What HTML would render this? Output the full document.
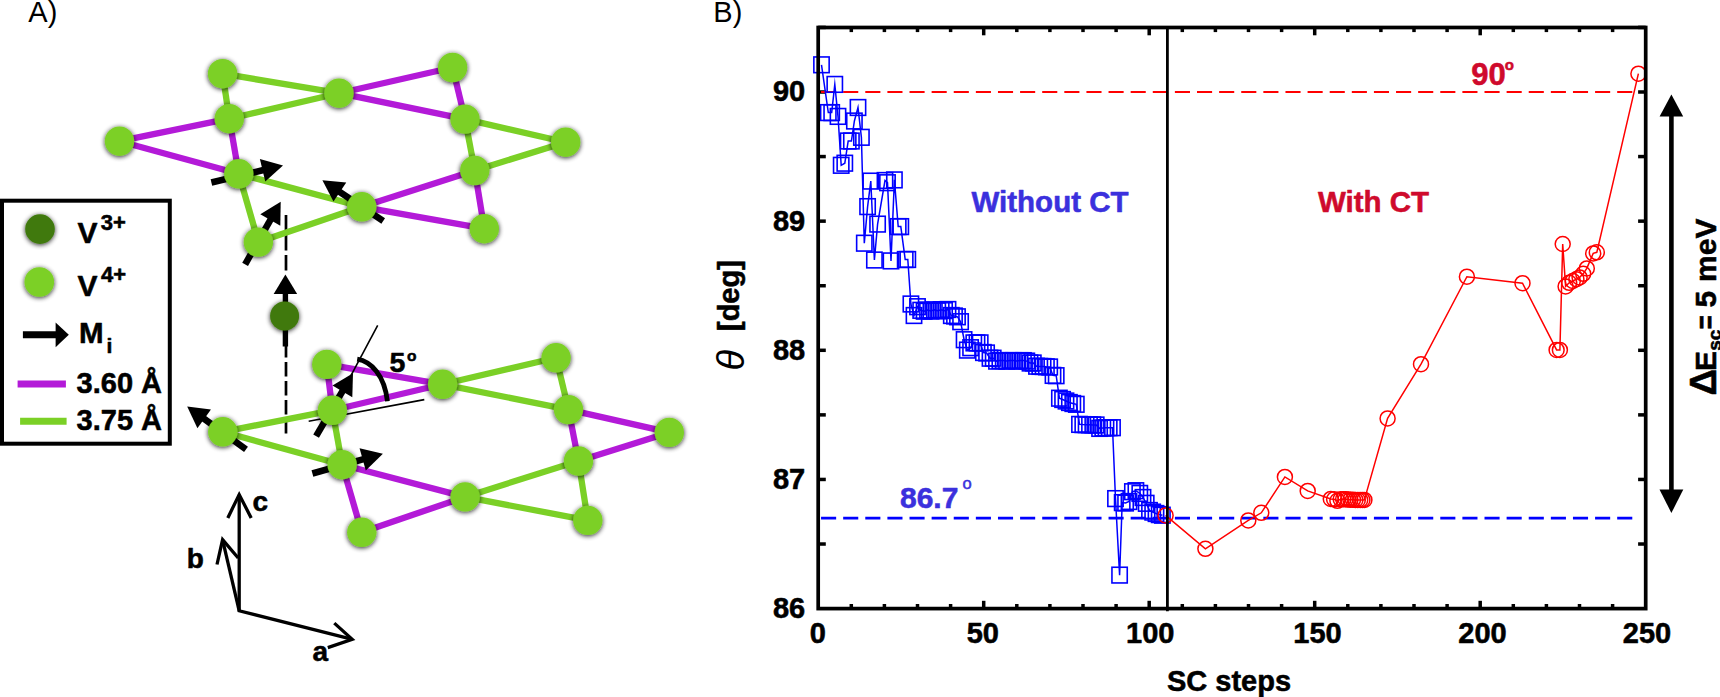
<!DOCTYPE html>
<html lang="en">
<head>
<meta charset="utf-8">
<title>Figure: spin canting and SC steps</title>
<style>
html,body{margin:0;padding:0;background:#fff;}
body{width:1720px;height:697px;overflow:hidden;}
svg{display:block;font-family:'Liberation Sans', sans-serif;}
.b{stroke-width:.55px;stroke-linejoin:round;}
</style>
</head>
<body>
<svg width="1720" height="697" viewBox="0 0 1720 697">
<defs>
<filter id="sh" x="-30%" y="-30%" width="160%" height="170%">
<feGaussianBlur in="SourceAlpha" stdDeviation="2.4" result="b"/>
<feOffset in="b" dx="0" dy="1.3" result="o"/>
<feComponentTransfer in="o" result="s"><feFuncA type="linear" slope="0.85"/></feComponentTransfer>
<feMerge><feMergeNode in="s"/><feMergeNode in="SourceGraphic"/></feMerge>
</filter>
</defs>
<rect width="1720" height="697" fill="#fff"/>
<g id="panelA">
<line x1="286" y1="215" x2="286" y2="272" stroke="#000" stroke-width="2.7" stroke-dasharray="15.5 4.5"/>
<line x1="286" y1="343" x2="286" y2="434.5" stroke="#000" stroke-width="2.7" stroke-dasharray="14.5 4.5"/>
<line x1="222.6" y1="73.7" x2="339" y2="93.2" stroke="#7bd026" stroke-width="6.3"/>
<line x1="339" y1="93.2" x2="229.3" y2="118.7" stroke="#7bd026" stroke-width="6.3"/>
<line x1="222.6" y1="73.7" x2="229.3" y2="118.7" stroke="#7bd026" stroke-width="6.3"/>
<line x1="229.3" y1="118.7" x2="119.5" y2="141.2" stroke="#b31ad8" stroke-width="6.3"/>
<line x1="119.5" y1="141.2" x2="238.8" y2="173.8" stroke="#b31ad8" stroke-width="6.3"/>
<line x1="229.3" y1="118.7" x2="238.8" y2="173.8" stroke="#b31ad8" stroke-width="6.3"/>
<line x1="339" y1="93.2" x2="452.6" y2="67.5" stroke="#b31ad8" stroke-width="6.3"/>
<line x1="339" y1="93.2" x2="465" y2="119.1" stroke="#b31ad8" stroke-width="6.3"/>
<line x1="452.6" y1="67.5" x2="465" y2="119.1" stroke="#b31ad8" stroke-width="6.3"/>
<line x1="465" y1="119.1" x2="565.7" y2="142.2" stroke="#7bd026" stroke-width="6.3"/>
<line x1="565.7" y1="142.2" x2="474.8" y2="170.5" stroke="#7bd026" stroke-width="6.3"/>
<line x1="465" y1="119.1" x2="474.8" y2="170.5" stroke="#7bd026" stroke-width="6.3"/>
<line x1="474.8" y1="170.5" x2="361.8" y2="206.8" stroke="#b31ad8" stroke-width="6.3"/>
<line x1="361.8" y1="206.8" x2="484.3" y2="228.7" stroke="#b31ad8" stroke-width="6.3"/>
<line x1="474.8" y1="170.5" x2="484.3" y2="228.7" stroke="#b31ad8" stroke-width="6.3"/>
<line x1="238.8" y1="173.8" x2="361.8" y2="206.8" stroke="#7bd026" stroke-width="6.3"/>
<line x1="361.8" y1="206.8" x2="258.4" y2="242.1" stroke="#7bd026" stroke-width="6.3"/>
<line x1="238.8" y1="173.8" x2="258.4" y2="242.1" stroke="#7bd026" stroke-width="6.3"/>
<line x1="211.4" y1="182.5" x2="263.55" y2="170.05" stroke="#000" stroke-width="6.6"/><polygon points="283,165.4 265.25,181.46 259.9,159.09" fill="#000"/>
<line x1="245.1" y1="264.4" x2="270.83" y2="219.09" stroke="#000" stroke-width="6.6"/><polygon points="280.7,201.7 280.33,225.64 260.33,214.28" fill="#000"/>
<line x1="383.2" y1="220.9" x2="339.03" y2="191.41" stroke="#000" stroke-width="6.6"/><polygon points="322.4,180.3 346.25,182.4 333.48,201.53" fill="#000"/>
<circle cx="222.6" cy="73.7" r="14.7" fill="#7bd026" filter="url(#sh)"/>
<circle cx="452.6" cy="67.5" r="14.7" fill="#7bd026" filter="url(#sh)"/>
<circle cx="339" cy="93.2" r="14.7" fill="#7bd026" filter="url(#sh)"/>
<circle cx="229.3" cy="118.7" r="14.7" fill="#7bd026" filter="url(#sh)"/>
<circle cx="465" cy="119.1" r="14.7" fill="#7bd026" filter="url(#sh)"/>
<circle cx="119.5" cy="141.2" r="14.7" fill="#7bd026" filter="url(#sh)"/>
<circle cx="565.7" cy="142.2" r="14.7" fill="#7bd026" filter="url(#sh)"/>
<circle cx="238.8" cy="173.8" r="14.7" fill="#7bd026" filter="url(#sh)"/>
<circle cx="474.8" cy="170.5" r="14.7" fill="#7bd026" filter="url(#sh)"/>
<circle cx="361.8" cy="206.8" r="14.7" fill="#7bd026" filter="url(#sh)"/>
<circle cx="258.4" cy="242.1" r="14.7" fill="#7bd026" filter="url(#sh)"/>
<circle cx="484.3" cy="228.7" r="14.7" fill="#7bd026" filter="url(#sh)"/>
<line x1="285.4" y1="346.5" x2="285.4" y2="293" stroke="#000" stroke-width="5.4"/><polygon points="285.4,274.5 297.15,294 273.65,294" fill="#000"/>
<circle cx="284.6" cy="316" r="14.5" fill="#3f790b" filter="url(#sh)"/>
<line x1="326.8" y1="364.4" x2="442.6" y2="384.3" stroke="#b31ad8" stroke-width="6.3"/>
<line x1="442.6" y1="384.3" x2="332.4" y2="410.3" stroke="#b31ad8" stroke-width="6.3"/>
<line x1="326.8" y1="364.4" x2="332.4" y2="410.3" stroke="#b31ad8" stroke-width="6.3"/>
<line x1="442.6" y1="384.3" x2="556.1" y2="357.8" stroke="#7bd026" stroke-width="6.3"/>
<line x1="442.6" y1="384.3" x2="568.5" y2="409.6" stroke="#7bd026" stroke-width="6.3"/>
<line x1="556.1" y1="357.8" x2="568.5" y2="409.6" stroke="#7bd026" stroke-width="6.3"/>
<line x1="568.5" y1="409.6" x2="669.3" y2="432.4" stroke="#b31ad8" stroke-width="6.3"/>
<line x1="669.3" y1="432.4" x2="578.5" y2="461" stroke="#b31ad8" stroke-width="6.3"/>
<line x1="568.5" y1="409.6" x2="578.5" y2="461" stroke="#b31ad8" stroke-width="6.3"/>
<line x1="578.5" y1="461" x2="465.1" y2="496.9" stroke="#7bd026" stroke-width="6.3"/>
<line x1="465.1" y1="496.9" x2="587.8" y2="520.4" stroke="#7bd026" stroke-width="6.3"/>
<line x1="578.5" y1="461" x2="587.8" y2="520.4" stroke="#7bd026" stroke-width="6.3"/>
<line x1="342.2" y1="464.7" x2="465.1" y2="496.9" stroke="#b31ad8" stroke-width="6.3"/>
<line x1="465.1" y1="496.9" x2="361.8" y2="532.3" stroke="#b31ad8" stroke-width="6.3"/>
<line x1="342.2" y1="464.7" x2="361.8" y2="532.3" stroke="#b31ad8" stroke-width="6.3"/>
<line x1="332.4" y1="410.3" x2="222.8" y2="431.8" stroke="#7bd026" stroke-width="6.3"/>
<line x1="222.8" y1="431.8" x2="342.2" y2="464.7" stroke="#7bd026" stroke-width="6.3"/>
<line x1="332.4" y1="410.3" x2="342.2" y2="464.7" stroke="#7bd026" stroke-width="6.3"/>
<line x1="308.7" y1="421.3" x2="424.3" y2="399.6" stroke="#000" stroke-width="1.6"/>
<line x1="332.4" y1="410.3" x2="377.7" y2="325.4" stroke="#000" stroke-width="1.6"/>
<line x1="316.1" y1="436.2" x2="342.89" y2="390.46" stroke="#000" stroke-width="6.6"/><polygon points="353,373.2 352.31,397.13 332.46,385.51" fill="#000"/>
<line x1="246" y1="449.3" x2="203.37" y2="418.27" stroke="#000" stroke-width="6.6"/><polygon points="187.2,406.5 210.95,409.56 197.41,428.16" fill="#000"/>
<line x1="312.4" y1="473.5" x2="363.64" y2="459.11" stroke="#000" stroke-width="6.6"/><polygon points="382.9,453.7 365.79,470.45 359.57,448.31" fill="#000"/>
<path d="M357.2 359.2 C371 361.5 384.5 375 387.4 401.3" fill="none" stroke="#000" stroke-width="4.8"/>
<circle cx="326.8" cy="364.4" r="14.7" fill="#7bd026" filter="url(#sh)"/>
<circle cx="556.1" cy="357.8" r="14.7" fill="#7bd026" filter="url(#sh)"/>
<circle cx="442.6" cy="384.3" r="14.7" fill="#7bd026" filter="url(#sh)"/>
<circle cx="332.4" cy="410.3" r="14.7" fill="#7bd026" filter="url(#sh)"/>
<circle cx="568.5" cy="409.6" r="14.7" fill="#7bd026" filter="url(#sh)"/>
<circle cx="222.8" cy="431.8" r="14.7" fill="#7bd026" filter="url(#sh)"/>
<circle cx="669.3" cy="432.4" r="14.7" fill="#7bd026" filter="url(#sh)"/>
<circle cx="342.2" cy="464.7" r="14.7" fill="#7bd026" filter="url(#sh)"/>
<circle cx="578.5" cy="461" r="14.7" fill="#7bd026" filter="url(#sh)"/>
<circle cx="465.1" cy="496.9" r="14.7" fill="#7bd026" filter="url(#sh)"/>
<circle cx="361.8" cy="532.3" r="14.7" fill="#7bd026" filter="url(#sh)"/>
<circle cx="587.8" cy="520.4" r="14.7" fill="#7bd026" filter="url(#sh)"/>
<text x="389.6" y="372.2" font-size="28.5" font-weight="bold" class="b" stroke="#000">5</text>
<text x="406.9" y="361.3" font-size="15.5" font-weight="bold" class="b" stroke="#000">o</text>
<rect x="2" y="200.7" width="167.8" height="243" fill="#fff" stroke="#000" stroke-width="4"/>
<circle cx="40" cy="229.1" r="14.8" fill="#3f790b" filter="url(#sh)"/>
<circle cx="39.3" cy="282" r="14.8" fill="#7bd026" filter="url(#sh)"/>
<text x="77.4" y="243.4" font-size="30" font-weight="bold" class="b" stroke="#000">V</text>
<text x="100.8" y="230.1" font-size="22" font-weight="bold" class="b" stroke="#000">3+</text>
<text x="77.4" y="295.6" font-size="30" font-weight="bold" class="b" stroke="#000">V</text>
<text x="101" y="281.7" font-size="22" font-weight="bold" class="b" stroke="#000">4+</text>
<line x1="22.9" y1="334.8" x2="56.6" y2="334.8" stroke="#000" stroke-width="7.1"/><polygon points="68.8,334.8 55.6,347.15 55.6,322.45" fill="#000"/>
<text x="79" y="343" font-size="29.5" font-weight="bold" class="b" stroke="#000">M</text>
<text x="106.6" y="352.8" font-size="21" font-weight="bold" class="b" stroke="#000">i</text>
<line x1="17.6" y1="384" x2="65.9" y2="384" stroke="#b31ad8" stroke-width="7"/>
<text x="76.6" y="393.1" font-size="29" font-weight="bold" class="b" stroke="#000">3.60 Å</text>
<line x1="20.1" y1="421.2" x2="66.6" y2="421.2" stroke="#7bd026" stroke-width="7"/>
<text x="76.6" y="429.8" font-size="29" font-weight="bold" class="b" stroke="#000">3.75 Å</text>
<g fill="none" stroke="#000" stroke-width="3.3" stroke-linejoin="miter">
<path d="M239.2 494.8 L239.2 610.8 L351.5 639.2"/>
<path d="M227.8 517.9 L239.2 494.6 L251.2 517.9"/>
<path d="M239.2 610.8 L222.6 539.8"/>
<path d="M217 564.5 L222.6 539.6 L238.2 558"/>
<path d="M334.3 623.1 L352.2 639.4 L327.8 647.6"/>
</g>
<text x="252.5" y="511.4" font-size="28" font-weight="bold" class="b" stroke="#000">c</text>
<text x="186.8" y="567.8" font-size="28" font-weight="bold" class="b" stroke="#000">b</text>
<text x="312.6" y="660.6" font-size="28" font-weight="bold" class="b" stroke="#000">a</text>
<text x="28.3" y="21.5" font-size="29">A)</text>
</g>
<g id="panelB">
<text x="713.3" y="21.5" font-size="29">B)</text>
<g stroke="#000" stroke-width="3.5">
<line x1="851.3" y1="608.6" x2="851.3" y2="604"/>
<line x1="851.3" y1="27.5" x2="851.3" y2="32.1"/>
<line x1="884.4" y1="608.6" x2="884.4" y2="604"/>
<line x1="884.4" y1="27.5" x2="884.4" y2="32.1"/>
<line x1="917.5" y1="608.6" x2="917.5" y2="604"/>
<line x1="917.5" y1="27.5" x2="917.5" y2="32.1"/>
<line x1="950.6" y1="608.6" x2="950.6" y2="604"/>
<line x1="950.6" y1="27.5" x2="950.6" y2="32.1"/>
<line x1="983.7" y1="608.6" x2="983.7" y2="600.8"/>
<line x1="983.7" y1="27.5" x2="983.7" y2="35.3"/>
<line x1="1016.8" y1="608.6" x2="1016.8" y2="604"/>
<line x1="1016.8" y1="27.5" x2="1016.8" y2="32.1"/>
<line x1="1049.9" y1="608.6" x2="1049.9" y2="604"/>
<line x1="1049.9" y1="27.5" x2="1049.9" y2="32.1"/>
<line x1="1083" y1="608.6" x2="1083" y2="604"/>
<line x1="1083" y1="27.5" x2="1083" y2="32.1"/>
<line x1="1116.1" y1="608.6" x2="1116.1" y2="604"/>
<line x1="1116.1" y1="27.5" x2="1116.1" y2="32.1"/>
<line x1="1149.2" y1="608.6" x2="1149.2" y2="600.8"/>
<line x1="1149.2" y1="27.5" x2="1149.2" y2="35.3"/>
<line x1="1182.3" y1="608.6" x2="1182.3" y2="604"/>
<line x1="1182.3" y1="27.5" x2="1182.3" y2="32.1"/>
<line x1="1215.4" y1="608.6" x2="1215.4" y2="604"/>
<line x1="1215.4" y1="27.5" x2="1215.4" y2="32.1"/>
<line x1="1248.5" y1="608.6" x2="1248.5" y2="604"/>
<line x1="1248.5" y1="27.5" x2="1248.5" y2="32.1"/>
<line x1="1281.6" y1="608.6" x2="1281.6" y2="604"/>
<line x1="1281.6" y1="27.5" x2="1281.6" y2="32.1"/>
<line x1="1314.7" y1="608.6" x2="1314.7" y2="600.8"/>
<line x1="1314.7" y1="27.5" x2="1314.7" y2="35.3"/>
<line x1="1347.8" y1="608.6" x2="1347.8" y2="604"/>
<line x1="1347.8" y1="27.5" x2="1347.8" y2="32.1"/>
<line x1="1380.9" y1="608.6" x2="1380.9" y2="604"/>
<line x1="1380.9" y1="27.5" x2="1380.9" y2="32.1"/>
<line x1="1414" y1="608.6" x2="1414" y2="604"/>
<line x1="1414" y1="27.5" x2="1414" y2="32.1"/>
<line x1="1447.1" y1="608.6" x2="1447.1" y2="604"/>
<line x1="1447.1" y1="27.5" x2="1447.1" y2="32.1"/>
<line x1="1480.2" y1="608.6" x2="1480.2" y2="600.8"/>
<line x1="1480.2" y1="27.5" x2="1480.2" y2="35.3"/>
<line x1="1513.3" y1="608.6" x2="1513.3" y2="604"/>
<line x1="1513.3" y1="27.5" x2="1513.3" y2="32.1"/>
<line x1="1546.4" y1="608.6" x2="1546.4" y2="604"/>
<line x1="1546.4" y1="27.5" x2="1546.4" y2="32.1"/>
<line x1="1579.5" y1="608.6" x2="1579.5" y2="604"/>
<line x1="1579.5" y1="27.5" x2="1579.5" y2="32.1"/>
<line x1="1612.6" y1="608.6" x2="1612.6" y2="604"/>
<line x1="1612.6" y1="27.5" x2="1612.6" y2="32.1"/>
<line x1="818.2" y1="544.02" x2="825.8" y2="544.02"/>
<line x1="1645.7" y1="544.02" x2="1638.1" y2="544.02"/>
<line x1="818.2" y1="479.45" x2="825.8" y2="479.45"/>
<line x1="1645.7" y1="479.45" x2="1638.1" y2="479.45"/>
<line x1="818.2" y1="414.88" x2="825.8" y2="414.88"/>
<line x1="1645.7" y1="414.88" x2="1638.1" y2="414.88"/>
<line x1="818.2" y1="350.3" x2="825.8" y2="350.3"/>
<line x1="1645.7" y1="350.3" x2="1638.1" y2="350.3"/>
<line x1="818.2" y1="285.73" x2="825.8" y2="285.73"/>
<line x1="1645.7" y1="285.73" x2="1638.1" y2="285.73"/>
<line x1="818.2" y1="221.15" x2="825.8" y2="221.15"/>
<line x1="1645.7" y1="221.15" x2="1638.1" y2="221.15"/>
<line x1="818.2" y1="156.57" x2="825.8" y2="156.57"/>
<line x1="1645.7" y1="156.57" x2="1638.1" y2="156.57"/>
<line x1="818.2" y1="92" x2="825.8" y2="92"/>
<line x1="1645.7" y1="92" x2="1638.1" y2="92"/>
<line x1="818.2" y1="27.42" x2="825.8" y2="27.42"/>
<line x1="1645.7" y1="27.42" x2="1638.1" y2="27.42"/>
</g>
<line x1="821.05" y1="92" x2="1633.5" y2="92" stroke="#ff0000" stroke-width="2.2" stroke-dasharray="15.1 7.015"/>
<line x1="821.05" y1="518.2" x2="1633" y2="518.2" stroke="#0000ff" stroke-width="2.8" stroke-dasharray="15.1 7.015"/>
<polyline fill="none" stroke="#0000ff" stroke-width="1.5" stroke-linejoin="miter" stroke-miterlimit="10" points="821.5,64.8 828.3,112.6 831.7,112.6 834.8,84.4 838,116.4 841.2,165.3 844.8,163.2 848.2,141 851.4,141 854.4,121 858,107.5 861.4,137.3 864.3,243.2 867.6,206.6 870.8,181.1 874.4,260 877.6,224.1 885,180.5 887.5,182.7 891,260.9 894.4,179.9 898.2,226.6 900.8,226.6 905.2,259.5 907.8,259.5 910.9,304 914,315.5 917.5,306.7 920.7,310.3 924.11,311.2 927.53,310.1 930.94,311 934.35,309.9 937.76,310.8 941.17,309.7 944.59,310.6 948,309.5 951.3,315.5 954.5,316 957.5,316.8 960.6,321.7 964.1,339.7 967.3,350.1 970.6,347.7 973.8,342.9 977,342.9 980.2,342.9 983.4,352.5 986.6,353 990,358.2 993.2,358.2 996.5,361.1 999.87,360.6 1003.23,360.6 1006.6,361.1 1009.97,360.6 1013.33,360.6 1016.7,361.1 1020.07,360.6 1023.43,360.6 1026.8,361.1 1030,363 1033.3,363 1036.5,366.2 1039.8,366.4 1043.1,366.5 1046.4,366.8 1049.7,367 1053,375.4 1056.2,375.7 1059.4,398.2 1062.6,399.5 1066,401 1069.4,402.5 1072.8,403.5 1076.3,404.3 1079.5,424.4 1082.8,424.6 1086.1,424.7 1089.5,424.8 1092.8,424.9 1096.2,425 1099.6,428.4 1102.8,428 1106,427.8 1109.2,427.7 1112.5,427.7 1115.5,498.6 1119.6,575.1 1122.2,502.6 1125.6,503 1129,501.5 1132.4,491.7 1135.9,490.7 1139.8,493.4 1143,497.5 1146.2,503.3 1149.5,510.5 1152.7,512.1 1156,513.5 1159.2,514.6 1162.4,515.2"/>
<g fill="none" stroke="#0000ff" stroke-width="1.6">
<rect x="813.85" y="56.95" width="15.3" height="15.7"/>
<rect x="820.65" y="104.75" width="15.3" height="15.7"/>
<rect x="824.05" y="104.75" width="15.3" height="15.7"/>
<rect x="827.15" y="76.55" width="15.3" height="15.7"/>
<rect x="830.35" y="108.55" width="15.3" height="15.7"/>
<rect x="833.55" y="157.45" width="15.3" height="15.7"/>
<rect x="837.15" y="155.35" width="15.3" height="15.7"/>
<rect x="840.55" y="133.15" width="15.3" height="15.7"/>
<rect x="843.75" y="133.15" width="15.3" height="15.7"/>
<rect x="846.75" y="113.15" width="15.3" height="15.7"/>
<rect x="850.35" y="99.65" width="15.3" height="15.7"/>
<rect x="853.75" y="129.45" width="15.3" height="15.7"/>
<rect x="856.65" y="235.35" width="15.3" height="15.7"/>
<rect x="859.95" y="198.75" width="15.3" height="15.7"/>
<rect x="863.15" y="173.25" width="15.3" height="15.7"/>
<rect x="866.75" y="252.15" width="15.3" height="15.7"/>
<rect x="869.95" y="216.25" width="15.3" height="15.7"/>
<rect x="877.35" y="172.65" width="15.3" height="15.7"/>
<rect x="879.85" y="174.85" width="15.3" height="15.7"/>
<rect x="883.35" y="253.05" width="15.3" height="15.7"/>
<rect x="886.75" y="172.05" width="15.3" height="15.7"/>
<rect x="890.55" y="218.75" width="15.3" height="15.7"/>
<rect x="893.15" y="218.75" width="15.3" height="15.7"/>
<rect x="897.55" y="251.65" width="15.3" height="15.7"/>
<rect x="900.15" y="251.65" width="15.3" height="15.7"/>
<rect x="903.25" y="296.15" width="15.3" height="15.7"/>
<rect x="906.35" y="307.65" width="15.3" height="15.7"/>
<rect x="909.85" y="298.85" width="15.3" height="15.7"/>
<rect x="913.05" y="302.45" width="15.3" height="15.7"/>
<rect x="916.46" y="303.35" width="15.3" height="15.7"/>
<rect x="919.88" y="302.25" width="15.3" height="15.7"/>
<rect x="923.29" y="303.15" width="15.3" height="15.7"/>
<rect x="926.7" y="302.05" width="15.3" height="15.7"/>
<rect x="930.11" y="302.95" width="15.3" height="15.7"/>
<rect x="933.52" y="301.85" width="15.3" height="15.7"/>
<rect x="936.94" y="302.75" width="15.3" height="15.7"/>
<rect x="940.35" y="301.65" width="15.3" height="15.7"/>
<rect x="943.65" y="307.65" width="15.3" height="15.7"/>
<rect x="946.85" y="308.15" width="15.3" height="15.7"/>
<rect x="949.85" y="308.95" width="15.3" height="15.7"/>
<rect x="952.95" y="313.85" width="15.3" height="15.7"/>
<rect x="956.45" y="331.85" width="15.3" height="15.7"/>
<rect x="959.65" y="342.25" width="15.3" height="15.7"/>
<rect x="962.95" y="339.85" width="15.3" height="15.7"/>
<rect x="966.15" y="335.05" width="15.3" height="15.7"/>
<rect x="969.35" y="335.05" width="15.3" height="15.7"/>
<rect x="972.55" y="335.05" width="15.3" height="15.7"/>
<rect x="975.75" y="344.65" width="15.3" height="15.7"/>
<rect x="978.95" y="345.15" width="15.3" height="15.7"/>
<rect x="982.35" y="350.35" width="15.3" height="15.7"/>
<rect x="985.55" y="350.35" width="15.3" height="15.7"/>
<rect x="988.85" y="353.25" width="15.3" height="15.7"/>
<rect x="992.22" y="352.75" width="15.3" height="15.7"/>
<rect x="995.58" y="352.75" width="15.3" height="15.7"/>
<rect x="998.95" y="353.25" width="15.3" height="15.7"/>
<rect x="1002.32" y="352.75" width="15.3" height="15.7"/>
<rect x="1005.68" y="352.75" width="15.3" height="15.7"/>
<rect x="1009.05" y="353.25" width="15.3" height="15.7"/>
<rect x="1012.42" y="352.75" width="15.3" height="15.7"/>
<rect x="1015.78" y="352.75" width="15.3" height="15.7"/>
<rect x="1019.15" y="353.25" width="15.3" height="15.7"/>
<rect x="1022.35" y="355.15" width="15.3" height="15.7"/>
<rect x="1025.65" y="355.15" width="15.3" height="15.7"/>
<rect x="1028.85" y="358.35" width="15.3" height="15.7"/>
<rect x="1032.15" y="358.55" width="15.3" height="15.7"/>
<rect x="1035.45" y="358.65" width="15.3" height="15.7"/>
<rect x="1038.75" y="358.95" width="15.3" height="15.7"/>
<rect x="1042.05" y="359.15" width="15.3" height="15.7"/>
<rect x="1045.35" y="367.55" width="15.3" height="15.7"/>
<rect x="1048.55" y="367.85" width="15.3" height="15.7"/>
<rect x="1051.75" y="390.35" width="15.3" height="15.7"/>
<rect x="1054.95" y="391.65" width="15.3" height="15.7"/>
<rect x="1058.35" y="393.15" width="15.3" height="15.7"/>
<rect x="1061.75" y="394.65" width="15.3" height="15.7"/>
<rect x="1065.15" y="395.65" width="15.3" height="15.7"/>
<rect x="1068.65" y="396.45" width="15.3" height="15.7"/>
<rect x="1071.85" y="416.55" width="15.3" height="15.7"/>
<rect x="1075.15" y="416.75" width="15.3" height="15.7"/>
<rect x="1078.45" y="416.85" width="15.3" height="15.7"/>
<rect x="1081.85" y="416.95" width="15.3" height="15.7"/>
<rect x="1085.15" y="417.05" width="15.3" height="15.7"/>
<rect x="1088.55" y="417.15" width="15.3" height="15.7"/>
<rect x="1091.95" y="420.55" width="15.3" height="15.7"/>
<rect x="1095.15" y="420.15" width="15.3" height="15.7"/>
<rect x="1098.35" y="419.95" width="15.3" height="15.7"/>
<rect x="1101.55" y="419.85" width="15.3" height="15.7"/>
<rect x="1104.85" y="419.85" width="15.3" height="15.7"/>
<rect x="1107.85" y="490.75" width="15.3" height="15.7"/>
<rect x="1111.95" y="567.25" width="15.3" height="15.7"/>
<rect x="1114.55" y="494.75" width="15.3" height="15.7"/>
<rect x="1117.95" y="495.15" width="15.3" height="15.7"/>
<rect x="1121.35" y="493.65" width="15.3" height="15.7"/>
<rect x="1124.75" y="483.85" width="15.3" height="15.7"/>
<rect x="1128.25" y="482.85" width="15.3" height="15.7"/>
<rect x="1132.15" y="485.55" width="15.3" height="15.7"/>
<rect x="1135.35" y="489.65" width="15.3" height="15.7"/>
<rect x="1138.55" y="495.45" width="15.3" height="15.7"/>
<rect x="1141.85" y="502.65" width="15.3" height="15.7"/>
<rect x="1145.05" y="504.25" width="15.3" height="15.7"/>
<rect x="1148.35" y="505.65" width="15.3" height="15.7"/>
<rect x="1151.55" y="506.75" width="15.3" height="15.7"/>
<rect x="1154.75" y="507.35" width="15.3" height="15.7"/>
</g>
<polyline fill="none" stroke="#ff0000" stroke-width="1.5" stroke-miterlimit="10" points="1165.6,515.4 1205.4,548.8 1248.3,520.4 1261.3,512.8 1284.9,476.9 1307.7,490.9 1330.8,498.9 1334.1,499.3 1337.4,500.8 1340.7,499.3 1343.2,499.2 1345.6,499.3 1348,499.6 1350.4,499.7 1353,499.8 1355.4,499.9 1357.8,500 1360.2,500 1362.4,500 1364.4,499.9 1387.6,418.4 1421,364.2 1466.9,276.7 1522.5,283.2 1556.6,349.9 1559.9,349.9 1562.7,244 1565.6,286.4 1569.2,282.8 1572.8,281 1576.4,279.2 1579.6,277.4 1583.2,273.8 1586.8,268.4 1593.2,253.4 1596.8,252.3 1638.4,73.7"/>
<g fill="none" stroke="#ff0000" stroke-width="1.5">
<circle cx="1165.6" cy="515.4" r="7.5"/>
<circle cx="1205.4" cy="548.8" r="7.5"/>
<circle cx="1248.3" cy="520.4" r="7.5"/>
<circle cx="1261.3" cy="512.8" r="7.5"/>
<circle cx="1284.9" cy="476.9" r="7.5"/>
<circle cx="1307.7" cy="490.9" r="7.5"/>
<circle cx="1330.8" cy="498.9" r="7.5"/>
<circle cx="1334.1" cy="499.3" r="7.5"/>
<circle cx="1337.4" cy="500.8" r="7.5"/>
<circle cx="1340.7" cy="499.3" r="7.5"/>
<circle cx="1343.2" cy="499.2" r="7.5"/>
<circle cx="1345.6" cy="499.3" r="7.5"/>
<circle cx="1348" cy="499.6" r="7.5"/>
<circle cx="1350.4" cy="499.7" r="7.5"/>
<circle cx="1353" cy="499.8" r="7.5"/>
<circle cx="1355.4" cy="499.9" r="7.5"/>
<circle cx="1357.8" cy="500" r="7.5"/>
<circle cx="1360.2" cy="500" r="7.5"/>
<circle cx="1362.4" cy="500" r="7.5"/>
<circle cx="1364.4" cy="499.9" r="7.5"/>
<circle cx="1387.6" cy="418.4" r="7.5"/>
<circle cx="1421" cy="364.2" r="7.5"/>
<circle cx="1466.9" cy="276.7" r="7.5"/>
<circle cx="1522.5" cy="283.2" r="7.5"/>
<circle cx="1556.6" cy="349.9" r="7.5"/>
<circle cx="1559.9" cy="349.9" r="7.5"/>
<circle cx="1562.7" cy="244" r="7.5"/>
<circle cx="1565.6" cy="286.4" r="7.5"/>
<circle cx="1569.2" cy="282.8" r="7.5"/>
<circle cx="1572.8" cy="281" r="7.5"/>
<circle cx="1576.4" cy="279.2" r="7.5"/>
<circle cx="1579.6" cy="277.4" r="7.5"/>
<circle cx="1583.2" cy="273.8" r="7.5"/>
<circle cx="1586.8" cy="268.4" r="7.5"/>
<circle cx="1593.2" cy="253.4" r="7.5"/>
<circle cx="1596.8" cy="252.3" r="7.5"/>
<circle cx="1638.4" cy="73.7" r="7.5"/>
</g>
<line x1="1167.4" y1="27.5" x2="1167.4" y2="611.3" stroke="#000" stroke-width="2.8"/>
<rect x="818.2" y="27.5" width="827.5" height="581.1" fill="none" stroke="#000" stroke-width="3.7"/>
<g font-size="29" font-weight="bold" class="b" stroke="#000">
<text x="805.2" y="618" text-anchor="end">86</text>
<text x="805.2" y="488.85" text-anchor="end">87</text>
<text x="805.2" y="359.7" text-anchor="end">88</text>
<text x="805.2" y="230.55" text-anchor="end">89</text>
<text x="805.2" y="101.4" text-anchor="end">90</text>
<text x="817.8" y="642.7" text-anchor="middle">0</text>
<text x="982.8" y="642.7" text-anchor="middle">50</text>
<text x="1150.3" y="642.7" text-anchor="middle">100</text>
<text x="1317.5" y="642.7" text-anchor="middle">150</text>
<text x="1482.5" y="642.7" text-anchor="middle">200</text>
<text x="1647" y="642.7" text-anchor="middle">250</text>
<text x="1229" y="690.8" text-anchor="middle">SC steps</text>
</g>
<text transform="translate(744 370.5) rotate(-90)" font-size="38" font-style="italic">θ</text>
<text transform="translate(739.4 331) rotate(-90)" font-size="29" font-weight="bold" class="b" stroke="#000">[deg]</text>
<text x="971.5" y="211.7" font-size="29.5" font-weight="bold" class="b" fill="#3b30dd" stroke="#3b30dd">Without CT</text>
<text x="1318" y="211.7" font-size="29.5" font-weight="bold" class="b" fill="#cf0a2c" stroke="#cf0a2c">With CT</text>
<text x="1471.2" y="85.1" font-size="31" font-weight="bold" class="b" fill="#cf0a2c" stroke="#cf0a2c">90<tspan font-size="15" dx="-1" dy="-15.4">o</tspan></text>
<text x="900" y="508" font-size="30" font-weight="bold" class="b" fill="#3b30dd" stroke="#3b30dd">86.7<tspan font-size="16.5" font-weight="normal" dx="4" dy="-19.2">o</tspan></text>
<line x1="1671.4" y1="112" x2="1671.4" y2="492" stroke="#000" stroke-width="4.6"/>
<polygon points="1671.4,94.4 1659.6,116.6 1683.2,116.6" fill="#000"/>
<polygon points="1671.4,513 1659.5,489.4 1683.3,489.4" fill="#000"/>
<g font-weight="bold" class="b" stroke="#000">
<text transform="translate(1715.8 395.5) rotate(-90)" font-size="37">Δ</text>
<text transform="translate(1715.8 371) rotate(-90)" font-size="30">E</text>
<text transform="translate(1721 350.8) rotate(-90)" font-size="19">sc</text>
<text transform="translate(1715.8 329.2) rotate(-90) scale(0.8 1)" font-size="30">=</text>
<text transform="translate(1715.8 307.4) rotate(-90)" font-size="30">5</text>
<text transform="translate(1715.8 281.9) rotate(-90)" font-size="30">meV</text>
</g>
</g>
</svg>
</body>
</html>
